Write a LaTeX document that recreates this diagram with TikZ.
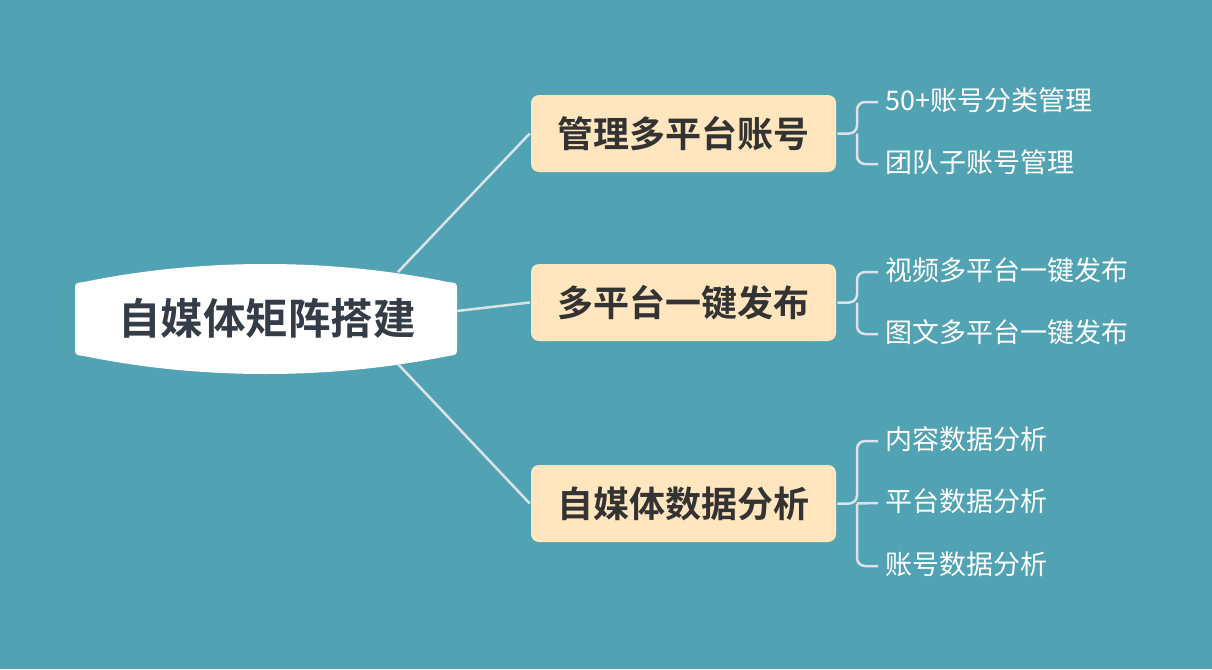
\documentclass[tikz,border=0pt]{standalone}
\usepackage{fontspec}
\setmainfont{Noto Sans CJK SC}[BoldFont={Noto Sans CJK SC Bold}]
\definecolor{bgteal}{HTML}{51A3B4}
\definecolor{boxpeach}{HTML}{FFE6BE}
\definecolor{linegray}{HTML}{DCE1EA}
\definecolor{rootink}{HTML}{343C48}
\definecolor{boxink}{HTML}{333333}
\begin{document}
\begin{tikzpicture}[x=1pt,y=-1pt,line width=2.5pt,draw=linegray,
        topic/.style={fill=boxpeach,rounded corners=8pt,minimum width=305pt,
                minimum height=77pt,text=boxink,font=\fontsize{36}{36}\selectfont\bfseries},
        leaf/.style={anchor=west,inner xsep=6pt,inner ysep=0pt,text=white,yshift=-5pt,
                text height=0.8em,text depth=0.08em,font=\fontsize{27}{27}\selectfont}]
        \useasboundingbox (0,0) rectangle (1212,669);
        \fill[bgteal] (0,0) rectangle (1212,669);
        % root shape
        \fill[white] (75,290) .. controls (75,283) .. (84,282)
                .. controls (200,258) and (330,258) .. (448,282)
                .. controls (457,283) .. (457,290) -- (457,347)
                .. controls (457,355) .. (448,356)
                .. controls (330,380) and (200,380) .. (84,356)
                .. controls (75,355) .. (75,347) -- cycle;
        \node (R) at (267,318) [text=rootink,font=\fontsize{42.5}{42.5}\selectfont\bfseries]{自媒体矩阵搭建};
        \coordinate (R1) at (398,272);
        \coordinate (R2) at (457,311);
        \coordinate (R3) at (398,364);
        \begin{scope}[every node/.style={topic}]
            \node (A) at (683.5,133.5) {管理多平台账号};
            \node (B) at (683.5,302.5) {多平台一键发布};
            \node (C) at (683.5,503.5) {自媒体数据分析};
        \end{scope}
        \begin{scope}[every node/.style={leaf}]
            \node (A1) at (878,102) {50+账号分类管理};
            \node (A2) at (878,164) {团队子账号管理};
            \node (B1) at (878,272) {视频多平台一键发布};
            \node (B2) at (878,334) {图文多平台一键发布};
            \node (C1) at (878,441) {内容数据分析};
            \node (C2) at (878,503) {平台数据分析};
            \node (C3) at (878,566) {账号数据分析};
        \end{scope}
        \path (R1) edge (A.west);
        \path (R2) edge (B.west);
        \path (R3) edge (C.west);
        \draw[rounded corners=8pt] (A.east) -- (857,133.5) |- ([yshift=5pt]A1.west);
        \draw[rounded corners=8pt] (857,133.5) |- ([yshift=5pt]A2.west);
        \draw[rounded corners=8pt] (B.east) -- (857,302.5) |- ([yshift=5pt]B1.west);
        \draw[rounded corners=8pt] (857,302.5) |- ([yshift=5pt]B2.west);
        \draw[rounded corners=8pt] (C.east) -- (857,503.5) |- ([yshift=5pt]C1.west);
        \draw (857,503.5) -- ([yshift=5pt]C2.west);
        \draw[rounded corners=8pt] (857,503.5) |- ([yshift=5pt]C3.west);
\end{tikzpicture}
\end{document}
